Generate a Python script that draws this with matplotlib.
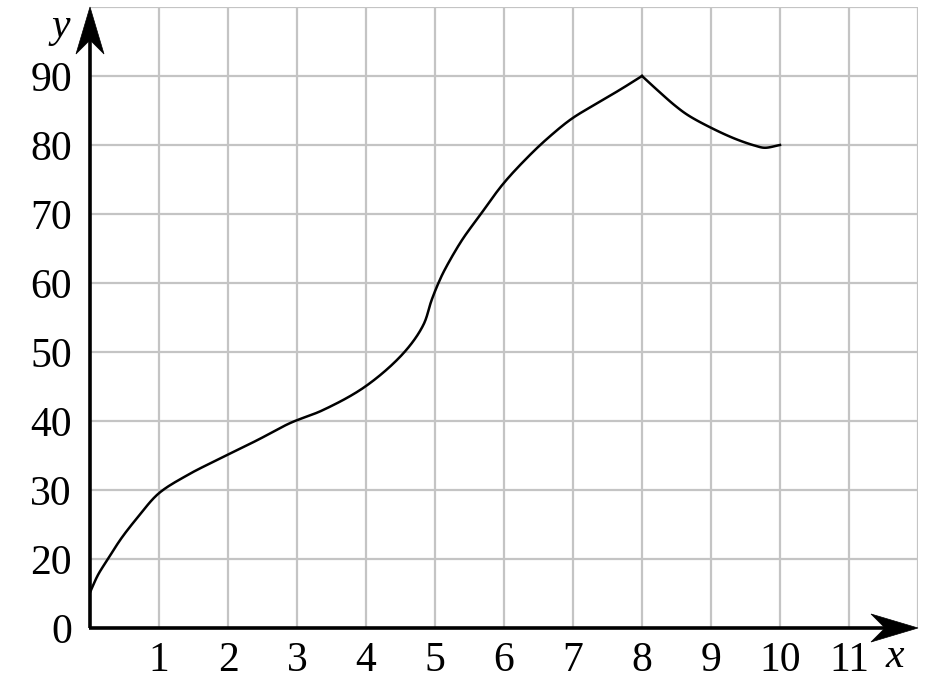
import numpy as np
import matplotlib
matplotlib.use("Agg")
import matplotlib.pyplot as plt
from matplotlib.patches import Polygon
from matplotlib.transforms import IdentityTransform

# ---- data ----
x_vals = [0, 0.116, 0.26, 0.454, 0.696, 0.995, 1.42, 1.83, 2.42, 2.90, 3.38,
          3.99, 4.54, 4.83, 4.95, 5.05, 5.14, 5.39, 5.65, 5.99, 6.38, 6.67,
          6.98, 7.34, 7.68, 8.0, 8.24, 8.48, 8.67, 9.0, 9.35, 9.64, 9.78, 10.0]
y_vals = [10.3, 15.4, 20.0, 23.0, 26.1, 29.5, 32.2, 34.3, 37.2, 39.7, 41.6,
          45.0, 49.8, 53.9, 57.5, 60.0, 61.9, 66.2, 69.8, 74.4, 78.6, 81.3,
          83.8, 86.0, 88.0, 90.0, 87.8, 85.7, 84.3, 82.5, 80.9, 79.9, 79.6, 80.0]
x_ticks = [1, 2, 3, 4, 5, 6, 7, 8, 9, 10, 11]
y_ticks = [0, 20, 30, 40, 50, 60, 70, 80, 90]
x_grid = list(range(1, 13))
y_grid = [20, 30, 40, 50, 60, 70, 80, 90, 100]

# broken y axis: 0-20 occupies one cell, then 10 per cell
def fwd(y):
    y = np.asarray(y, dtype=float)
    return np.where(y < 20, y / 20.0, (y - 10.0) / 10.0)

def inv(p):
    p = np.asarray(p, dtype=float)
    return np.where(p < 1, p * 20.0, p * 10.0 + 10.0)

def catmull(px, py, n=14):
    """centripetal Catmull-Rom drawing path through the given points (rendering only)"""
    P = np.column_stack([np.asarray(px, float), np.asarray(py, float)])
    P = np.vstack([2 * P[0] - P[1], P, 2 * P[-1] - P[-2]])
    out = []
    for i in range(1, len(P) - 2):
        p0, p1, p2, p3 = P[i - 1], P[i], P[i + 1], P[i + 2]
        t0 = 0.0
        t1 = t0 + np.linalg.norm(p1 - p0) ** 0.5
        t2 = t1 + np.linalg.norm(p2 - p1) ** 0.5
        t3 = t2 + np.linalg.norm(p3 - p2) ** 0.5
        for t in np.linspace(t1, t2, n, endpoint=False):
            a1 = (t1 - t) / (t1 - t0) * p0 + (t - t0) / (t1 - t0) * p1
            a2 = (t2 - t) / (t2 - t1) * p1 + (t - t1) / (t2 - t1) * p2
            a3 = (t3 - t) / (t3 - t2) * p2 + (t - t2) / (t3 - t2) * p3
            b1 = (t2 - t) / (t2 - t0) * a1 + (t - t0) / (t2 - t0) * a2
            b2 = (t3 - t) / (t3 - t1) * a2 + (t - t1) / (t3 - t1) * a3
            out.append((t2 - t) / (t2 - t1) * b1 + (t - t1) / (t2 - t1) * b2)
    out.append(P[-2])
    out = np.array(out)
    return out[:, 0], out[:, 1]

W, H = 946, 698
fig = plt.figure(figsize=(W / 100, H / 100), dpi=100)
ax = fig.add_axes([90 / W, 70 / H, 828 / W, 621 / H])
ax.set_yscale('function', functions=(fwd, inv))
ax.set_xlim(0, 12)
ax.set_ylim(0, 100)
for s in ax.spines.values():
    s.set_visible(False)

gcol = '#c4c4c4'
ax.vlines(x_grid, 0, 100, colors=gcol, lw=1.6, zorder=1)
ax.hlines(y_grid, 0, 12, colors=gcol, lw=1.6, zorder=1)

# draw curve smoothly in scaled space, with the corner at the peak
k = x_vals.index(8.0)
pos = fwd(y_vals)
for a, b in [(0, k + 1), (k, len(x_vals))]:
    sx, sp = catmull(x_vals[a:b], pos[a:b])
    ax.plot(sx, inv(sp), color='black', lw=1.8, zorder=3, solid_joinstyle='round')

serif = ['Liberation Serif', 'DejaVu Serif']
ax.set_xticks(x_ticks)
ax.set_xticklabels([str(v) for v in x_ticks], family=serif, fontsize=30)
ax.set_yticks(y_ticks)
ax.set_yticklabels([str(v) for v in y_ticks], family=serif, fontsize=30)
ax.yaxis.set_minor_locator(matplotlib.ticker.NullLocator())
ax.tick_params(axis='both', length=0)
ax.tick_params(axis='y', pad=13)
ax.tick_params(axis='x', pad=10)

fig.canvas.draw()
T = ax.transData
ox, oy = T.transform((0, 0))
tx, ty = T.transform((12, 100))
L, N, Hw = 47, 33, 14
idt = IdentityTransform()
# axis lines
fig.add_artist(plt.Line2D([ox, ox], [oy, ty - N], transform=idt, color='black', lw=2.6, solid_capstyle='butt', zorder=5))
fig.add_artist(plt.Line2D([ox - 1.5, tx - N], [oy, oy], transform=idt, color='black', lw=2.6, solid_capstyle='butt', zorder=5))
# arrow heads
fig.add_artist(Polygon([(ox, ty), (ox + Hw, ty - L), (ox, ty - N), (ox - Hw, ty - L)],
                       closed=True, transform=idt, facecolor='black', edgecolor='black', lw=0.5, zorder=6))
fig.add_artist(Polygon([(tx, oy), (tx - L, oy + Hw), (tx - N, oy), (tx - L, oy - Hw)],
                       closed=True, transform=idt, facecolor='black', edgecolor='black', lw=0.5, zorder=6))

fig.text(61 / W, 1 - 27 / H, 'y', family=serif, style='italic', fontsize=30, ha='center', va='center')
fig.text(895 / W, 1 - 657 / H, 'x', family=serif, style='italic', fontsize=30, ha='center', va='center')

fig.savefig('out.png', dpi=100)
